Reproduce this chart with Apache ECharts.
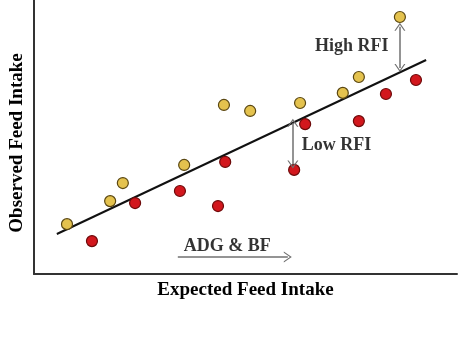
<!DOCTYPE html>
<html>
<head>
<meta charset="utf-8">
<script src="https://cdn.jsdelivr.net/npm/echarts@6/dist/echarts.min.js"></script>
<style>
  html, body { margin: 0; padding: 0; background: #fff; }
  #chart { width: 474px; height: 353px; }
</style>
</head>
<body>
<div id="chart"></div>
<script>
// observed vs expected intake, arbitrary units 0-10
var highX = [0.78, 1.80, 2.10, 3.55, 4.49, 5.11, 6.29, 7.30, 7.68, 8.65];
var highY = [1.82, 2.66, 3.32, 3.98, 6.17, 5.95, 6.24, 6.61, 7.19, 9.38];
var lowX = [1.37, 2.39, 3.45, 4.35, 4.52, 6.15, 6.41, 7.68, 8.32, 9.03];
var lowY = [1.20, 2.59, 3.03, 2.48, 4.09, 3.80, 5.47, 5.58, 6.57, 7.08];
var fitX = [0.54, 9.27];
var fitY = [1.46, 7.81];

// [x1, y1, x2, y2, double headed]
var arrows = [
    [8.65, 9.02, 8.65, 7.52, true],
    [6.12, 5.52, 6.12, 4.00, true],
    [3.40, 0.62, 6.00, 0.62, false]
];
var labelNames = ['High RFI', 'Low RFI', 'ADG & BF'];
var labelX = [7.51, 7.15, 4.57];
var labelY = [8.30, 4.69, 1.02];

function pairs(xs, ys) {
    var d = [];
    for (var i = 0; i < xs.length; i++) d.push([xs[i], ys[i]]);
    return d;
}

var chevron = 'path://M0,10 L5,0 L10,10 L8.8,10 L5,2.4 L1.2,10 Z';
var serif = 'Liberation Serif';

var arrowData = arrows.map(function (a) {
    return [
        {coord: [a[0], a[1]], symbol: a[4] ? chevron : 'none'},
        {coord: [a[2], a[3]], symbol: chevron}
    ];
});

var labelData = labelNames.map(function (n, i) {
    return {name: n, value: [labelX[i], labelY[i]]};
});

var myChart = echarts.init(document.getElementById('chart'));
var option = {
    animation: false,
    grid: {left: 34, right: 17, top: 0, bottom: 79, containLabel: false, outerBoundsMode: 'none'},
    xAxis: {
        type: 'value', min: 0, max: 10,
        name: 'Expected Feed Intake',
        nameLocation: 'middle',
        nameGap: 7,
        nameTextStyle: {fontFamily: serif, fontWeight: 'bold', fontSize: 19, color: '#000'},
        axisLine: {lineStyle: {color: '#333', width: 2}},
        axisTick: {show: false},
        axisLabel: {show: false},
        splitLine: {show: false}
    },
    yAxis: {
        type: 'value', min: 0, max: 10,
        name: 'Observed Feed Intake',
        nameLocation: 'middle',
        nameGap: 7,
        nameTextStyle: {fontFamily: serif, fontWeight: 'bold', fontSize: 19, color: '#000', padding: [0, 12, 0, 0]},
        axisLine: {lineStyle: {color: '#333', width: 2}},
        axisTick: {show: false},
        axisLabel: {show: false},
        splitLine: {show: false}
    },
    series: [
        {
            name: 'fit',
            type: 'line',
            data: pairs(fitX, fitY),
            showSymbol: false,
            lineStyle: {color: '#111', width: 2},
            z: 1,
            markLine: {
                silent: true,
                symbolSize: [11, 8],
                label: {show: false},
                lineStyle: {color: '#707070', width: 1.5, type: 'solid'},
                data: arrowData
            }
        },
        {
            name: 'high',
            type: 'scatter',
            data: pairs(highX, highY),
            symbolSize: 11,
            itemStyle: {color: '#E4C24E', borderColor: '#5a4712', borderWidth: 1.2, opacity: 1},
            z: 3
        },
        {
            name: 'low',
            type: 'scatter',
            data: pairs(lowX, lowY),
            symbolSize: 11,
            itemStyle: {color: '#D2171D', borderColor: '#6e0a0a', borderWidth: 1.2, opacity: 1},
            z: 3
        },
        {
            name: 'labels',
            type: 'scatter',
            data: labelData,
            symbolSize: 0,
            silent: true,
            label: {
                show: true,
                position: 'inside',
                formatter: '{b}',
                fontFamily: serif,
                fontWeight: 'bold',
                fontSize: 18,
                color: '#000'
            },
            z: 4
        }
    ]
};
myChart.setOption(option);
</script>
</body>
</html>
